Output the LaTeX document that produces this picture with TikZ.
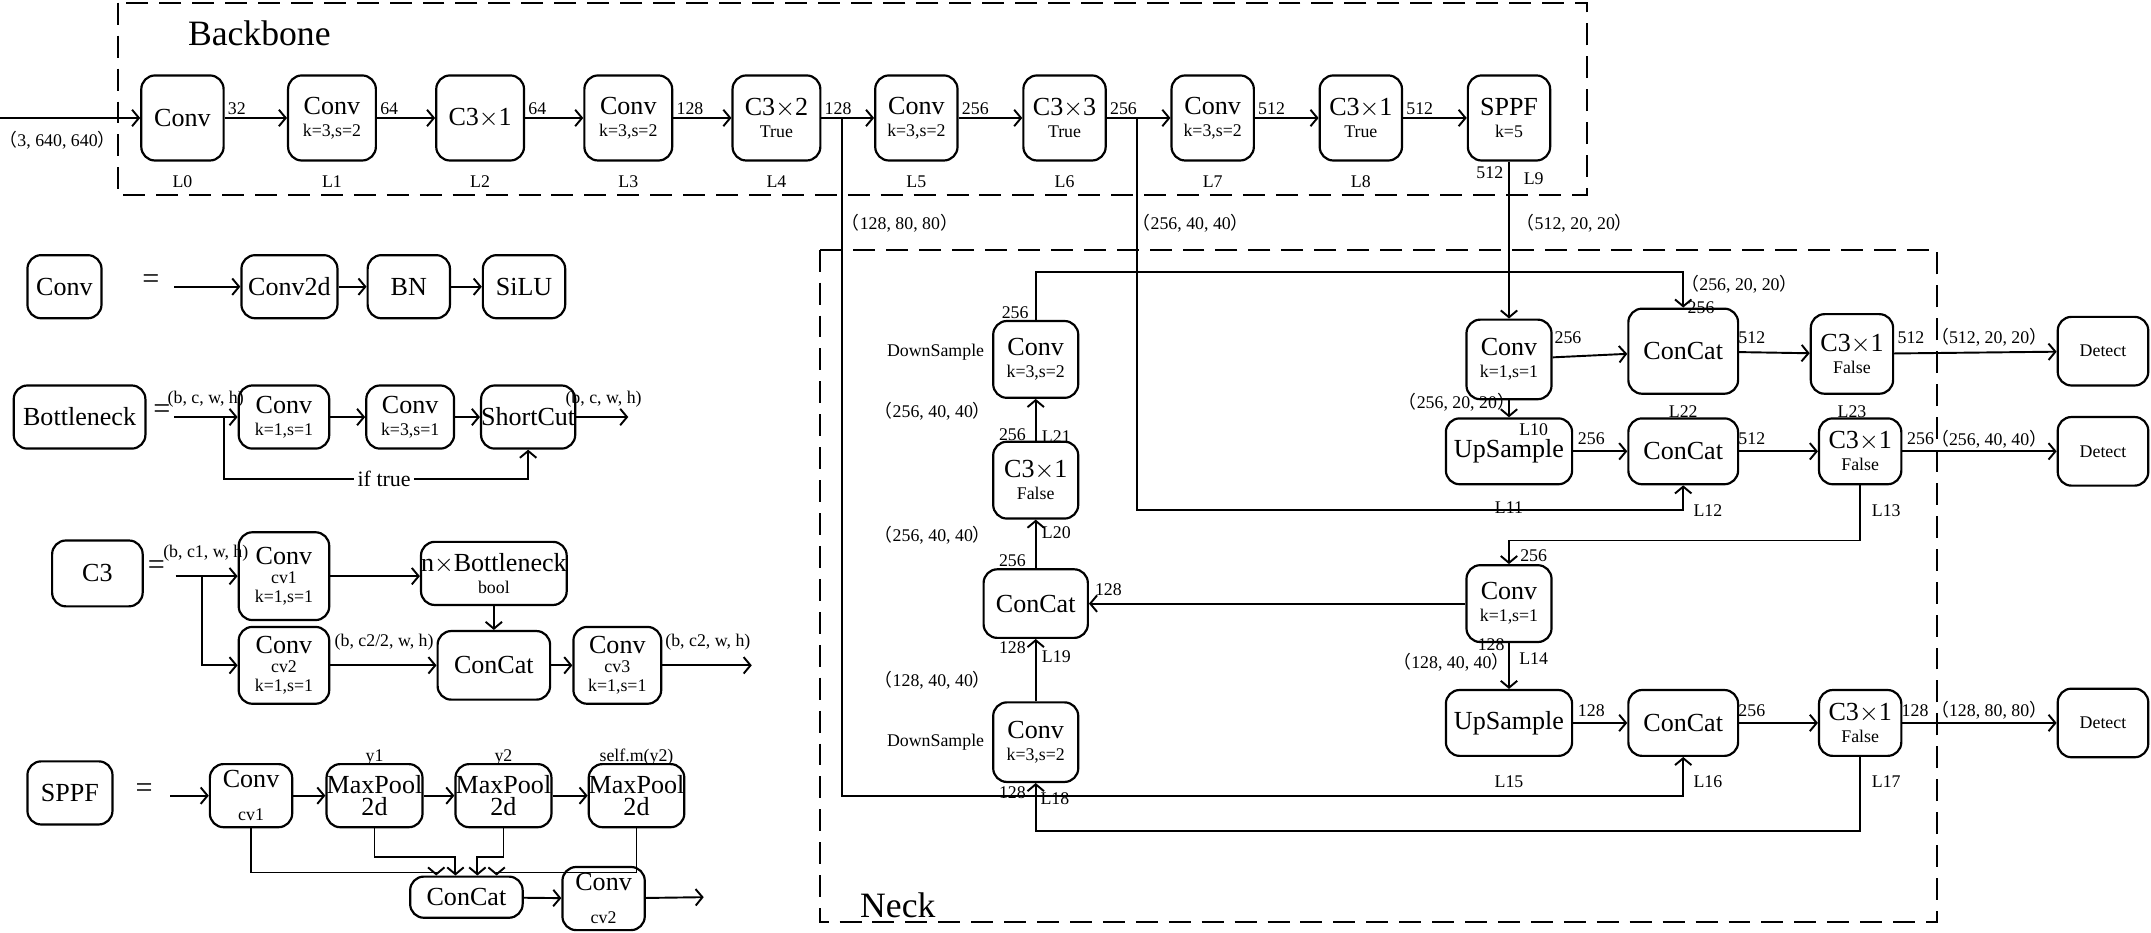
\documentclass[tikz,border=0pt]{standalone}
\usepackage{fontspec}
\setmainfont{Liberation Serif}
\newfontfamily\cjk{Noto Sans CJK SC}
\usetikzlibrary{arrows.meta}
\newcommand\subt{\fontsize{6.5}{7}\selectfont}
\newcommand\shp[1]{{\cjk （}#1{\cjk ）}}
\begin{document}
\begin{tikzpicture}[x=0.5pt,y=-0.5pt,
  blk/.style 2 args={draw, rounded corners=5pt, line width=0.8pt,
    minimum width=#1*0.5pt, minimum height=#2*0.5pt, inner sep=0pt,
    align=center, font=\fontsize{9.5}{10}\selectfont},
  lab/.style={font=\fontsize{6.5}{7}\selectfont, inner sep=1pt},
  wire/.style={line width=0.7pt},
  frame/.style={line width=0.8pt, dash pattern=on 8pt off 4pt},
  >={Straight Barb[length=2.5pt,width=6pt]}]
\useasboundingbox (0,0) rectangle (1568,680);
% frames
\draw [frame] (86,2) rectangle (1157,142);
\draw [frame] (598,182) rectangle (1412,672);
\node [anchor=west, font=\fontsize{13}{13}\selectfont] (bbt) at (130,24) {Backbone};
\node [anchor=west, font=\fontsize{13}{13}\selectfont] (nkt) at (620,660) {Neck};
% backbone
\node [blk={60}{62}] (l0) at (133,86) {Conv};
\node [blk={64}{62}] (l1) at (242,86) {Conv\\[-2pt]\subt k=3,s=2};
\node [blk={64}{62}] (l2) at (350,86) {C3$\times$1};
\node [blk={64}{62}] (l3) at (458,86) {Conv\\[-2pt]\subt k=3,s=2};
\node [blk={64}{62}] (l4) at (566,86) {C3$\times$2\\[-2pt]\subt True};
\node [blk={60}{62}] (l5) at (668,86) {Conv\\[-2pt]\subt k=3,s=2};
\node [blk={60}{62}] (l6) at (776,86) {C3$\times$3\\[-2pt]\subt True};
\node [blk={60}{62}] (l7) at (884,86) {Conv\\[-2pt]\subt k=3,s=2};
\node [blk={60}{62}] (l8) at (992,86) {C3$\times$1\\[-2pt]\subt True};
\node [blk={60}{62}] (l9) at (1100,86) {SPPF\\[-2pt]\subt k=5};
\coordinate (in) at (0,86);
\draw [wire,->] (in) -- (l0);
\node [lab] (inl) at (42,102) {\shp{3, 640, 640}};
\foreach \a/\b/\t in {l0/l1/32,l1/l2/64,l2/l3/64,l3/l4/128,l4/l5/128,l5/l6/256,l6/l7/256,l7/l8/512,l8/l9/512}{
  \draw [wire,->] (\a) -- (\b);
  \node [lab, above right] (c\a) at (\a.east) {\t};
}
\foreach \a/\t in {l0/L0,l1/L1,l2/L2,l3/L3,l4/L4,l5/L5,l6/L6,l7/L7,l8/L8}
  \node [lab, below=4pt] (n\a) at (\a.south) {\t};
\node [lab] (nl9) at (1118,130) {L9};
\node [lab] (cl9) at (1086,126) {512};
% neck
\node [blk={62}{58}] (l10) at (1100,262) {Conv\\[-2pt]\subt k=1,s=1};
\node [blk={80}{62}] (l22) at (1227,256) {ConCat};
\node [blk={60}{58}] (l23) at (1350,258) {C3$\times$1\\[-2pt]\subt False};
\node [blk={66}{50}] (d1) at (1533,256) {\subt Detect};
\node [blk={92}{48}] (l11) at (1100,329) {UpSample};
\node [blk={80}{48}] (l12) at (1227,329) {ConCat};
\node [blk={60}{48}] (l13) at (1356,329) {C3$\times$1\\[-2pt]\subt False};
\node [blk={66}{50}] (d2) at (1533,329) {\subt Detect};
\node [blk={62}{56}] (l14) at (1100,440) {Conv\\[-2pt]\subt k=1,s=1};
\node [blk={92}{48}] (l15) at (1100,527) {UpSample};
\node [blk={80}{48}] (l16) at (1227,527) {ConCat};
\node [blk={60}{48}] (l17) at (1356,527) {C3$\times$1\\[-2pt]\subt False};
\node [blk={66}{50}] (d3) at (1533,527) {\subt Detect};
\node [blk={76}{50}] (l19) at (755,440) {ConCat};
\node [blk={62}{56}] (l20) at (755,350) {C3$\times$1\\[-2pt]\subt False};
\node [blk={62}{56}] (l21) at (755,262) {Conv\\[-2pt]\subt k=3,s=2};
\node [blk={62}{58}] (l18) at (755,541) {Conv\\[-2pt]\subt k=3,s=2};
\coordinate (b4) at (614,86);
\coordinate (b6) at (829,86);
\coordinate (r4) at (0,580);
\coordinate (r6) at (0,372);
\coordinate (r21) at (0,198);
\coordinate (r13) at (0,394);
\coordinate (r17) at (0,606);
\draw [wire,->] (b4) -- (b4 |- r4) -| (l16.south);
\draw [wire,->] (b6) -- (b6 |- r6) -| (l12.south);
\draw [wire,->] (l9.south) -- (l10.north);
\draw [wire,->] (l21.north) -- (l21.north |- r21) -| (l22.north);
\draw [wire,->] (l13.south) -- (l13.south |- r13) -| (l14.north);
\draw [wire,->] (l17.south) -- (l17.south |- r17) -| (l18.south);
\foreach \a/\b in {l10/l22,l22/l23,l23/d1,l10/l11,l11/l12,l12/l13,l13/d2,l14/l19,l14/l15,l15/l16,l16/l17,l17/d3,l18/l19,l19/l20,l20/l21}
  \draw [wire,->] (\a) -- (\b);
\foreach \x/\y/\t [count=\i] in {
  656/163/\shp{128, 80, 80}, 868/163/\shp{256, 40, 40}, 1148/163/\shp{512, 20, 20},
  1268/207/\shp{256, 20, 20}, 1240/224/256, 1143/246/256, 1277/246/512, 1393/246/512,
  1450/246/\shp{512, 20, 20}, 1118/313/L10, 1062/293/\shp{256, 20, 20},
  1160/320/256, 1277/320/512, 1400/320/256, 1450/320/\shp{256, 40, 40},
  1100/370/L11, 1245/372/L12, 1375/372/L13, 1227/300/L22, 1350/300/L23,
  1118/405/256, 1087/470/128, 1118/480/L14, 1058/483/\shp{128, 40, 40},
  1160/518/128, 1277/518/256, 1396/518/128, 1450/518/\shp{128, 80, 80},
  1100/570/L15, 1245/570/L16, 1375/570/L17,
  808/430/128, 738/472/128, 770/479/L19, 680/496/\shp{128, 40, 40},
  682/541/DownSample, 682/257/DownSample, 738/578/128, 769/582/L18,
  738/409/256, 680/390/\shp{256, 40, 40}, 770/388/L20,
  738/317/256, 680/300/\shp{256, 40, 40}, 770/318/L21, 740/228/256}
  \node [lab] (t\i) at (\x,\y) {\t};
% Conv definition
\node [blk={54}{46}] (dconv) at (47,209) {Conv};
\node [font=\fontsize{11}{11}\selectfont] (eq1) at (110,205) {=};
\coordinate (cin) at (127,209);
\node [blk={70}{46}] (c2d) at (211,209) {Conv2d};
\node [blk={60}{46}] (bn) at (298,209) {BN};
\node [blk={60}{46}] (silu) at (382,209) {SiLU};
\draw [wire,->] (cin) -- (c2d);
\draw [wire,->] (c2d) -- (bn);
\draw [wire,->] (bn) -- (silu);
% Bottleneck
\node [blk={96}{46}] (dbot) at (58,304) {Bottleneck};
\node [font=\fontsize{11}{11}\selectfont] (eq2) at (118,300) {=};
\coordinate (bin) at (127,304);
\coordinate (bsp) at (163,304);
\coordinate (bout) at (458,304);
\node [blk={66}{46}] (bc1) at (207,304) {Conv\\[-2pt]\subt k=1,s=1};
\node [blk={64}{46}] (bc2) at (299,304) {Conv\\[-2pt]\subt k=3,s=1};
\node [blk={66}{46}] (bsc) at (385,304) {ShortCut};
\node [font=\fontsize{8}{8}\selectfont, inner sep=1pt, fill=white] (ift) at (280,349) {if true};
\draw [wire,->] (bin) -- (bc1);
\draw [wire,->] (bc1) -- (bc2);
\draw [wire,->] (bc2) -- (bsc);
\draw [wire,->] (bsc) -- (bout);
\draw [wire] (bsp) |- (ift.west);
\draw [wire,->] (ift.east) -| (bsc.south);
\node [lab] (bl1) at (150,291) {(b, c, w, h)};
\node [lab] (bl2) at (440,291) {(b, c, w, h)};
% C3
\node [blk={66}{48}] (dc3) at (71,418) {C3};
\node [font=\fontsize{11}{11}\selectfont] (eq3) at (114,414) {=};
\coordinate (c3in) at (128,420);
\coordinate (c3sp) at (147,420);
\coordinate (c3out) at (548,485);
\node [blk={66}{64}] (ccv1) at (207,420) {Conv\\[-3pt]\subt cv1\\[-3pt]\subt k=1,s=1};
\node [blk={104}{46}] (cnb) at (360,418) {n$\times$Bottleneck\\[-2pt]\subt bool};
\node [blk={66}{56}] (ccv2) at (207,485) {Conv\\[-3pt]\subt cv2\\[-3pt]\subt k=1,s=1};
\node [blk={82}{50}] (ccat) at (360,485) {ConCat};
\node [blk={64}{56}] (ccv3) at (450,485) {Conv\\[-3pt]\subt cv3\\[-3pt]\subt k=1,s=1};
\draw [wire,->] (c3in) -- (ccv1);
\draw [wire,->] (c3sp) |- (ccv2.west);
\draw [wire,->] (ccv1) -- (ccv1 -| cnb.west);
\draw [wire,->] (cnb) -- (ccat);
\draw [wire,->] (ccv2) -- (ccat);
\draw [wire,->] (ccat) -- (ccv3);
\draw [wire,->] (ccv3) -- (c3out);
\node [lab] (cl1) at (150,403) {(b, c1, w, h)};
\node [lab] (cl2) at (280,468) {(b, c2/2, w, h)};
\node [lab] (cl3) at (516,468) {(b, c2, w, h)};
% SPPF
\node [blk={62}{46}] (dsp) at (51,578) {SPPF};
\node [font=\fontsize{11}{11}\selectfont] (eq4) at (105,576) {=};
\coordinate (spin) at (124,580);
\coordinate (spout) at (513,654);
\node [blk={60}{46}] (scv1) at (183,580) {Conv\\[2pt]\subt cv1};
\node [blk={70}{46}] (smp1) at (273,580) {MaxPool\\[-2pt]2d};
\node [blk={70}{46}] (smp2) at (367,580) {MaxPool\\[-2pt]2d};
\node [blk={68}{46}] (smp3) at (464,580) {MaxPool\\[-2pt]2d};
\node [blk={82}{30}] (scat) at (340,654) {ConCat};
\node [blk={60}{46}] (scv2) at (440,655) {Conv\\[2pt]\subt cv2};
\node [lab] (sy1) at (273,552) {y1};
\node [lab] (sy2) at (367,552) {y2};
\node [lab] (sy3) at (464,552) {self.m(y2)};
\draw [wire,->] (spin) -- (scv1);
\draw [wire,->] (scv1) -- (smp1);
\draw [wire,->] (smp1) -- (smp2);
\draw [wire,->] (smp2) -- (smp3);
\draw [wire,->] (scat) -- (scv2);
\draw [wire,->] (scv2) -- (spout);
\coordinate (s1) at (0,636);
\coordinate (s2) at (0,625);
\coordinate (e1) at ([xshift=-11pt]scat.north);
\coordinate (e2) at ([xshift=-4pt]scat.north);
\coordinate (e3) at ([xshift=4pt]scat.north);
\coordinate (e4) at ([xshift=11pt]scat.north);
\draw [wire,->] (scv1.south) |- (e1 |- s1) -- (e1);
\draw [wire,->] (smp1.south) |- (e2 |- s2) -- (e2);
\draw [wire,->] (smp2.south) |- (e3 |- s2) -- (e3);
\draw [wire,->] (smp3.south) |- (e4 |- s1) -- (e4);
\end{tikzpicture}
\end{document}
